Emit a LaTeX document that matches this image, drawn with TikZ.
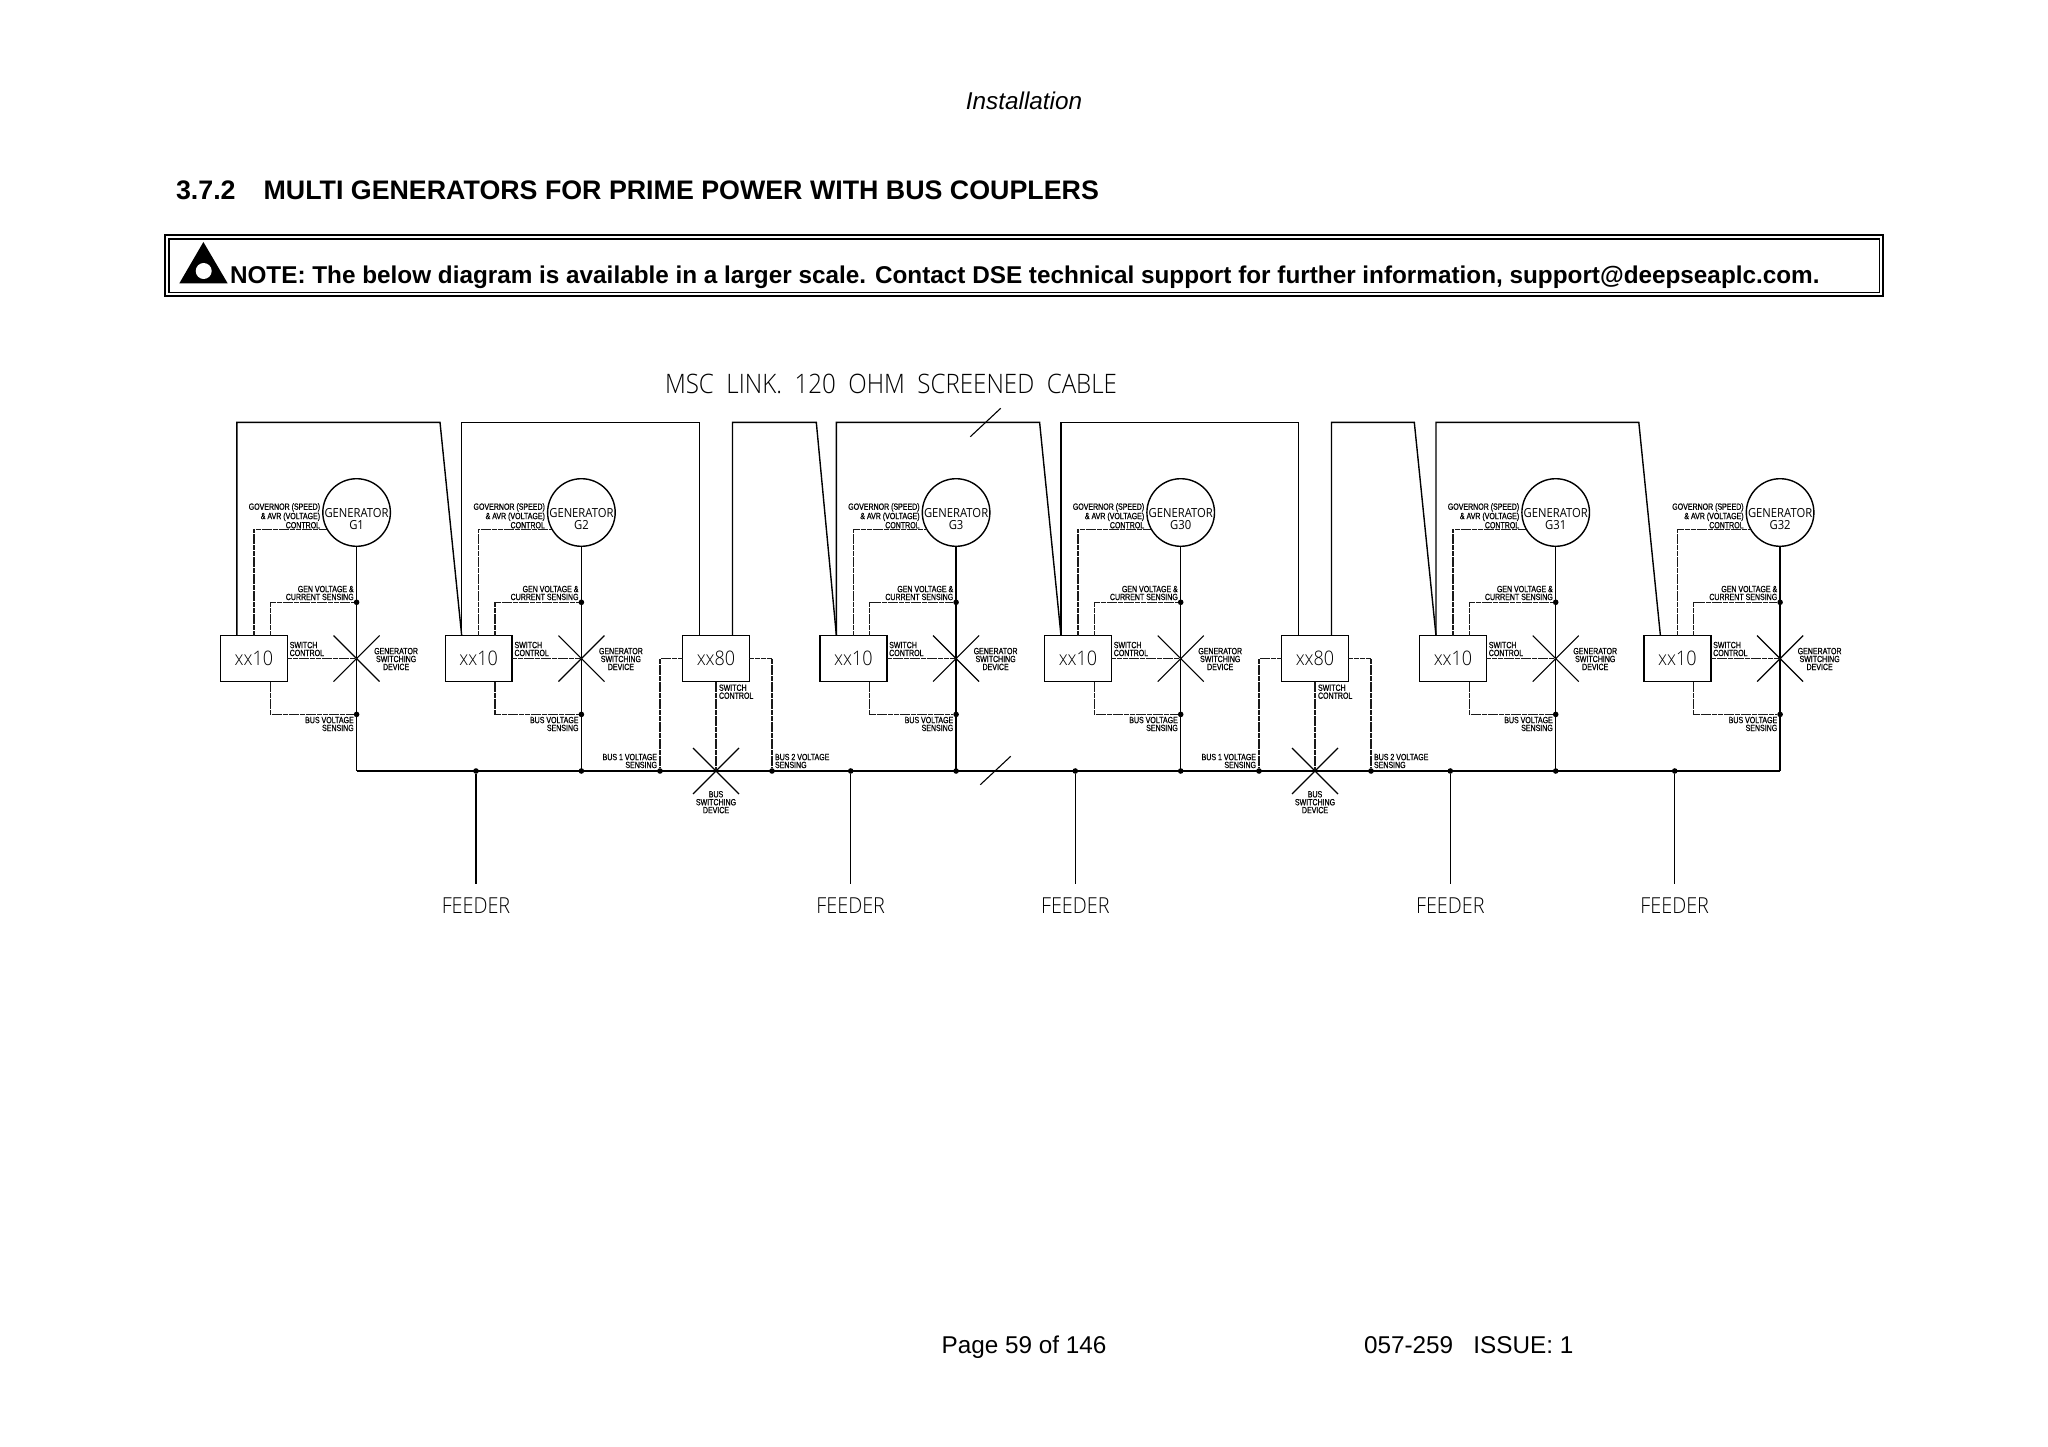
\documentclass[tikz,border=0pt]{standalone}
\usepackage{fontspec}
\usetikzlibrary{shapes.misc}
\setmainfont{Liberation Sans}
\newfontfamily\cadthin[FakeStretch=.9]{Open Sans Light}
\newfontfamily\cadmid[FakeStretch=.9]{Open Sans}
\newfontfamily\cadsmall[FakeStretch=.78,FakeBold=.7]{Liberation Sans}
\tikzset{
  every node/.style={outer sep=0pt},
  wire/.style={line width=1.4pt,black},
  ctl/.style={line width=1.2pt,black!90,dash pattern=on 5pt off .7pt},
  unit/.style={draw,line width=1.6pt,black,minimum width=66.8pt,minimum height=45.9pt,inner sep=0pt,text=black,font={\cadthin\fontsize{20}{20}\selectfont}},
  gen/.style={draw,circle,line width=1.4pt,black,minimum size=67.6pt,inner sep=0pt},
  gentext/.style={inner sep=0pt,align=center,font={\cadmid\fontsize{12.5}{13}\selectfont}},
  sw/.style={draw,cross out,line width=1.1pt,black,minimum size=46pt,inner sep=0pt},
  dot/.style={circle,fill=black,inner sep=0pt,minimum size=5.6pt},
  lab/.style={inner sep=0pt,font={\cadsmall\fontsize{9}{7.9}\selectfont}},
  big/.style={inner sep=0pt,font={\cadthin\fontsize{20}{20}\selectfont}},
  page/.style={inner sep=0pt,anchor=base west,font=\fontsize{24.3}{28}\selectfont},
  head/.style={inner sep=0pt,anchor=base west,font=\bfseries\fontsize{26.8}{30}\selectfont}
}
\begin{document}
\begin{tikzpicture}[x=1pt,y=-1pt]
\useasboundingbox[fill=white] (0,0) rectangle (2048,1447);
% page text
\node[page,anchor=base] (inst) at (1024,109.6) {\itshape Installation};
\node[head] (num) at (176,200) {3.7.2};
\node[head] (title) at (263.6,200) {MULTI GENERATORS FOR PRIME POWER WITH BUS COUPLERS};
% note frame
\node[draw,line width=2pt,minimum width=1717.6pt,minimum height=61pt,inner sep=0pt,anchor=north west] (frameout) at (165.2,235.3) {};
\node[draw,line width=1.5pt,minimum width=1710.6pt,minimum height=53.4pt,inner sep=0pt,anchor=north west] (framein) at (168.8,239) {};
\fill (203.4,242) -- (227.7,283.4) -- (179.3,283.4) -- cycle;
\fill[white] (203.7,271) circle (8);
\node[head,font=\bfseries\fontsize{24.3}{28}\selectfont] (note) at (230,283.4) {NOTE: The below diagram is available in a larger scale. Contact DSE technical support for further information, support@deepseaplc.com.};
\node[page,anchor=base] (pg) at (1024,1353) {Page 59 of 146};
\node[page] (iss) at (1364,1353) {057-259\hspace{.55em}\hspace{.28em}ISSUE: 1};
% MSC label
\node[big,anchor=west] (msc) at (665,384) {\resizebox{452pt}{!}{MSC\ \ LINK.\ \ 120\ \ OHM\ \ SCREENED\ \ CABLE}};
% generator channels
\foreach \n/\c/\g/\t in {1/253.9/356.6/G1,2/478.7/581.4/G2,3/853.4/956.1/G3,4/1078/1180.7/G30,5/1453/1555.7/G31,6/1677.4/1780.1/G32}{
  \node[unit] (box\n) at (\c,658.6) {xx10};
  \node[gen] (gen\n) at (\g,512.5) {};
  \node[gentext] (gt\n) at (\g,519) {GENERATOR\\[-.5pt]\t};
  \node[sw] (sw\n) at (\g,658.6) {};
  \coordinate (bus\n) at (\g,771);
  \coordinate (pin\n) at ({\c-17},635.6);
  \coordinate (sensT\n) at ({\c+16.3},635.6);
  \coordinate (sensB\n) at ({\c+16.3},681.5);
  \node[dot] (jt\n) at (\g,602.3) {};
  \node[dot] (jb\n) at (\g,714.4) {};
  \draw[wire] (gen\n.south) -- (sw\n.center) -- (bus\n);
  \draw[ctl] (box\n.north) |- (gen\n.210);
  \draw[ctl] (sensT\n) |- (jt\n);
  \draw[ctl] (sensB\n) |- (jb\n);
  \draw[ctl] (box\n.east) -- (sw\n.center);
  \node[lab,align=right,anchor=east] (lgov\n) at ({\g-36.5},515.8) {GOVERNOR (SPEED)\\\& AVR (VOLTAGE)\\CONTROL};
  \node[lab,align=right,anchor=east] (lgen\n) at ({\g-2.9},593) {GEN VOLTAGE \&\\CURRENT SENSING};
  \node[lab,align=left,anchor=west] (lsw\n) at ({\c+35.8},649) {SWITCH\\CONTROL};
  \node[lab,align=center] (ldev\n) at ({\g+39.5},659) {GENERATOR\\SWITCHING\\DEVICE};
  \node[lab,align=right,anchor=east] (lbus\n) at ({\g-2.9},724) {BUS VOLTAGE\\SENSING};
}
% bus coupler channels
\foreach \n/\c in {a/716,b/1315}{
  \node[unit] (cpl\n) at (\c,658.6) {xx80};
  \node[sw] (csw\n) at (\c,771) {};
  \node[dot] (cl\n) at ({\c-56},771) {};
  \node[dot] (cr\n) at ({\c+56},771) {};
  \draw[ctl] (cpl\n.south) -- (csw\n.center);
  \draw[ctl] (cpl\n.west) -| (cl\n);
  \draw[ctl] (cpl\n.east) -| (cr\n);
  \coordinate (cpinL\n) at ({\c-16.5},635.6);
  \coordinate (cpinR\n) at ({\c+16.5},635.6);
  \node[lab,align=left,anchor=west] (cls\n) at ({\c+3},691.7) {SWITCH\\CONTROL};
  \node[lab,align=right,anchor=east] (clb\n) at ({\c-59},761) {BUS 1 VOLTAGE\\SENSING};
  \node[lab,align=left,anchor=west] (clc\n) at ({\c+59},761) {BUS 2 VOLTAGE\\SENSING};
  \node[lab,align=center] (cld\n) at (\c,802.2) {BUS\\SWITCHING\\DEVICE};
}
% main bus
\draw[wire] (bus1) -- (bus6);
\foreach \n in {2,3,4,5}{\node[dot] (bd\n) at (bus\n) {};}
% feeders
\foreach \n/\f in {2/476,3/850.7,4/1075.3,5/1450.3,6/1674.7}{
  \node[dot] (fd\n) at (\f,771) {};
  \node[big] (ft\n) at (\f,906) {\resizebox{68.5pt}{!}{FEEDER}};
  \coordinate (fe\n) at (\f,883.5);
  \draw[wire] (fd\n) -- (fe\n);
}
% MSC link
\coordinate (k1) at (440,422.3);
\coordinate (k2) at (699.5,422.3);
\coordinate (k3) at (816.3,422.3);
\coordinate (k4) at (1039.6,422.3);
\coordinate (k5) at (1298.5,422.3);
\coordinate (k6) at (1414.3,422.3);
\coordinate (k7) at (1638.8,422.3);
\draw[wire] (pin1) |- (k1) -- (pin2);
\draw[wire] (pin2) |- (k2) -- (cpinLa);
\draw[wire] (cpinRa) |- (k3) -- (pin3);
\draw[wire] (pin3) |- (k4) -- (pin4);
\draw[wire] (pin4) |- (k5) -- (cpinLb);
\draw[wire] (cpinRb) |- (k6) -- (pin5);
\draw[wire] (pin5) |- (k7) -- (pin6);
% break ticks
\coordinate (t1a) at (970.3,436.7);
\coordinate (t1b) at (1000.7,408.3);
\coordinate (t2a) at (980.3,784.7);
\coordinate (t2b) at (1010.7,756.3);
\draw[line width=1.1pt,black] (t1a) -- (t1b);
\draw[line width=1.1pt,black] (t2a) -- (t2b);
\end{tikzpicture}
\end{document}
